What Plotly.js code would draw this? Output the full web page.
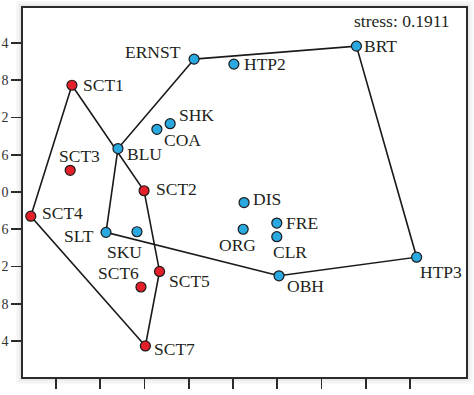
<!DOCTYPE html>
<html>
<head>
<meta charset="utf-8">
<script src="https://cdn.plot.ly/plotly-3.0.1.min.js"></script>
<style>html,body{margin:0;padding:0;background:#fff;}#chart{width:474px;height:395px;}</style>
</head>
<body>
<div id="chart"></div>
<script>
// Sites (NMDS scores)
const redNames = ["SCT1","SCT2","SCT3","SCT4","SCT5","SCT6","SCT7"];
const redX = [-0.364,-0.201,-0.368,-0.457,-0.166,-0.208,-0.198];
const redY = [0.172,0.002,0.035,-0.039,-0.128,-0.153,-0.248];

const blueNames = ["ERNST","HTP2","BRT","BLU","SHK","COA","SLT","SKU","DIS","ORG","FRE","CLR","OBH","HTP3"];
const blueX = [-0.088,0.002,0.279,-0.260,-0.142,-0.172,-0.287,-0.217,0.025,0.023,0.099,0.099,0.104,0.415];
const blueY = [0.214,0.206,0.235,0.070,0.110,0.101,-0.065,-0.064,-0.017,-0.060,-0.050,-0.072,-0.135,-0.105];

// Hull vertex order (by name)
const redHull = ["SCT1","SCT2","SCT5","SCT7","SCT4","SCT1"];
const blueHull = ["ERNST","BRT","HTP3","OBH","SLT","BLU","ERNST"];

// y tick labels are cropped in the source: only the last digit is visible
const yTicks = [0.24,0.18,0.12,0.06,0.00,-0.06,-0.12,-0.18,-0.24];
const yTickText = ["4","8","2","6","0","6","2","8","4"];
const xTicks = [-0.4,-0.3,-0.2,-0.1,0,0.1,0.2,0.3,0.4];
const stressText = "stress: 0.1911";

function hullXY(order, names, xs, ys){
  const hx=[], hy=[];
  order.forEach(n=>{const i=names.indexOf(n); hx.push(xs[i]); hy.push(ys[i]);});
  return [hx,hy];
}
const [rhx,rhy] = hullXY(redHull, redNames, redX, redY);
const [bhx,bhy] = hullXY(blueHull, blueNames, blueX, blueY);

const lineStyle = {color:'#1a1a1a', width:1.6};
const traces = [
  {x:rhx, y:rhy, mode:'lines', line:lineStyle, hoverinfo:'skip', showlegend:false},
  {x:bhx, y:bhy, mode:'lines', line:lineStyle, hoverinfo:'skip', showlegend:false},
  {x:redX, y:redY, mode:'markers', marker:{size:10, color:'#e3202a', line:{color:'#1a1a1a', width:1.2}}, showlegend:false},
  {x:blueX, y:blueY, mode:'markers', marker:{size:10, color:'#2aa8e0', line:{color:'#1a1a1a', width:1.2}}, showlegend:false}
];

// label placement: [xanchor, xshift, yshift]
const place = {
  SCT1:['left',9,0], SCT2:['left',10,2], SCT3:['center',9,14], SCT4:['left',9,3],
  SCT5:['left',7,-10], SCT6:['right',0,14], SCT7:['left',7,-3],
  ERNST:['right',-11,7], HTP2:['left',8,0], BRT:['left',6,0], BLU:['left',7,-5],
  SHK:['left',7,9], COA:['left',5,-11], SLT:['right',-10,-4], SKU:['center',-12,-20],
  DIS:['left',7,4], ORG:['center',-6,-16], FRE:['left',7,0], CLR:['center',13,-15],
  OBH:['left',6,-10], HTP3:['center',24,-15]
};
const font = {family:'"Liberation Serif", "Times New Roman", serif', size:17.5, color:'#231f20'};
const annotations = [];
function addLabels(names, xs, ys){
  names.forEach((n,i)=>{
    const p = place[n];
    annotations.push({x:xs[i], y:ys[i], xref:'x', yref:'y', text:n, showarrow:false,
      xanchor:p[0], yanchor:'middle', xshift:p[1], yshift:p[2], font:font});
  });
}
addLabels(redNames, redX, redY);
addLabels(blueNames, blueX, blueY);
annotations.push({x:0.968, y:0.998, xref:'paper', yref:'paper', text:stressText, showarrow:false,
  xanchor:'right', yanchor:'top', font:font});

// soft shadow around the frame
const W = 474-23-8, H = 395-8-18;
const shapes = [];
[1.5,3,4.5,6].forEach((d,k)=>{
  shapes.push({type:'rect', xref:'paper', yref:'paper', layer:'below',
    x0:-d/W, x1:1+d/W, y0:-d/H, y1:1+d/H,
    line:{color:'rgba(0,0,0,'+(0.07-0.015*k)+')', width:2}, fillcolor:'rgba(0,0,0,0)'});
});

const layout = {
  width:474, height:395,
  margin:{l:23, r:8, t:8, b:18},
  paper_bgcolor:'#fff', plot_bgcolor:'#fff',
  shapes:shapes,
  xaxis:{range:[-0.4746,0.5266], showgrid:false, zeroline:false, showline:true, mirror:true,
    linecolor:'#2b2b2b', linewidth:1.6, ticks:'outside', ticklen:10, tickwidth:1.6, tickcolor:'#2b2b2b',
    tickvals:xTicks, showticklabels:false, fixedrange:true},
  yaxis:{range:[-0.298,0.2964], showgrid:false, zeroline:false, showline:true, mirror:true,
    linecolor:'#2b2b2b', linewidth:1.6, ticks:'outside', ticklen:10, tickwidth:1.6, tickcolor:'#2b2b2b',
    tickvals:yTicks, ticktext:yTickText, tickfont:{family:'"Liberation Serif", serif', size:14, color:'#333'},
    automargin:false, fixedrange:true},
  annotations:annotations,
  showlegend:false
};
Plotly.newPlot('chart', traces, layout, {staticPlot:true, displayModeBar:false});
</script>
</body>
</html>
